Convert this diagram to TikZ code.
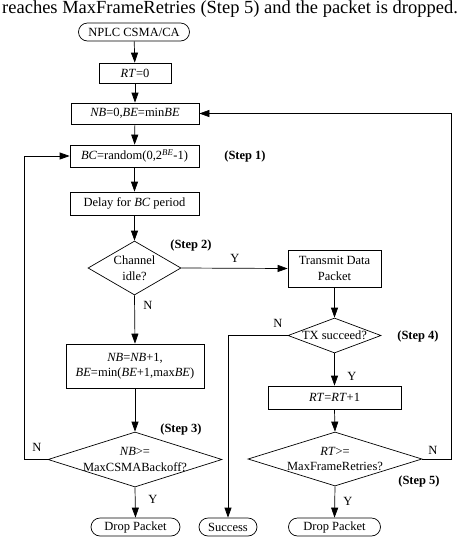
\documentclass[tikz,border=0pt]{standalone}
\usepackage{fontspec}
\setmainfont{Liberation Serif}
\usetikzlibrary{shapes.geometric,arrows.meta}
\begin{document}
\begin{tikzpicture}[x=1pt,y=-1pt,
  every node/.style={font=\fontsize{12.5}{15.5}\selectfont, inner sep=0pt},
  box/.style={draw, rectangle, align=center, line width=0.7pt},
  term/.style={draw, rectangle, rounded corners=9pt, line width=0.7pt, minimum height=18pt},
  dia/.style={draw, diamond, line width=0.7pt},
  arr/.style={draw, line width=0.7pt, -{Triangle[length=10pt,width=7pt]}},
  lbl/.style={font=\fontsize{12.5}{15}\selectfont},
  stp/.style={font=\fontsize{12.5}{15}\selectfont\bfseries}]
\useasboundingbox (0,0) rectangle (474,539);
\node[anchor=base west, font=\fontsize{18.5}{22}\selectfont] (cap) at (2,13.5) {reaches MaxFrameRetries (Step 5) and the packet is dropped.};
% nodes
\node[term, minimum width=111pt] (start) at (134,32) {NPLC CSMA/CA};
\node[box, minimum width=72pt, minimum height=20pt] (rt0) at (135,73) {\textit{RT}=0};
\node[box, minimum width=128pt, minimum height=21pt] (nb0) at (135,113.5) {\textit{NB}=0,\textit{BE}=min\textit{BE}};
\node[box, minimum width=129pt, minimum height=22pt] (bc) at (134.5,156) {\textit{BC}=random(0,2\textsuperscript{\itshape BE}-1)};
\node[box, minimum width=129pt, minimum height=23pt] (delay) at (134.5,203.5) {Delay for \textit{BC} period};
\node[dia, minimum width=93pt, minimum height=54pt] (chan) at (134.5,268) {};
\node[align=center] (chant) at (chan) {Channel\\idle?};
\node[box, minimum width=93pt, minimum height=37pt] (tx) at (334.5,268.5) {Transmit Data\\Packet};
\node[dia, minimum width=93pt, minimum height=35pt] (txs) at (334.5,335.5) {};
\node (txst) at (txs) {TX succeed?};
\node[box, minimum width=138pt, minimum height=44pt] (nbinc) at (135,366) {\textit{NB}=\textit{NB}+1,\\\textit{BE}=min(\textit{BE}+1,max\textit{BE})};
\node[box, minimum width=133pt, minimum height=23pt] (rtinc) at (334.5,397.5) {\textit{RT}=\textit{RT}+1};
\node[dia, minimum width=174pt, minimum height=55pt] (d3) at (135,459.5) {};
\node[align=center] (d3t) at (d3) {\textit{NB}>=\\MaxCSMABackoff?};
\node[dia, minimum width=174pt, minimum height=54pt] (d5) at (335,459) {};
\node[align=center] (d5t) at (d5) {\textit{RT}>=\\MaxFrameRetries?};
\node[term, minimum width=89pt] (drop1) at (135.5,527) {Drop Packet};
\node[term, minimum width=58pt] (succ) at (228,527) {Success};
\node[term, minimum width=92pt] (drop2) at (334.5,527) {Drop Packet};
% step labels
\node[stp] (s1) at (245,156) {(Step 1)};
\node[stp] (s2) at (191,245) {(Step 2)};
\node[stp] (s3) at (181,429) {(Step 3)};
\node[stp] (s4) at (418,336) {(Step 4)};
\node[stp] (s5) at (419,481) {(Step 5)};
% Y/N labels
\node[lbl] (y1) at (235,258) {Y};
\node[lbl] (n1) at (148,305) {N};
\node[lbl] (n2) at (278,323) {N};
\node[lbl] (y2) at (352,376) {Y};
\node[lbl] (n3) at (37,447) {N};
\node[lbl] (y3) at (153,499) {Y};
\node[lbl] (n4) at (433,450) {N};
\node[lbl] (y4) at (348,501) {Y};
% connectors
\draw[arr] (start) -- (rt0);
\draw[arr] (rt0) -- (nb0);
\draw[arr] (nb0) -- (bc);
\draw[arr] (bc) -- (delay);
\draw[arr] (delay) -- (chan.north);
\draw[arr] (chan.east) -- (tx.west);
\draw[arr] (chan.south) -- (nbinc.north);
\draw[arr] (nbinc.south) -- (d3.north);
\draw[arr] (d3.south) -- (drop1.north);
\draw[arr] (d3.west) -- ([xshift=-23pt]d3.west) |- (bc.west);
\draw[arr] (tx.south) -- (txs.north);
\draw[arr] (txs.south) -- (rtinc.north);
\draw[arr] (txs.west) -| (succ.north);
\draw[arr] (rtinc.south) -- (d5.north);
\draw[arr] (d5.south) -- (drop2.north);
\draw[arr] (d5.east) -- ([xshift=29pt]d5.east) |- (nb0.east);
\end{tikzpicture}
\end{document}
